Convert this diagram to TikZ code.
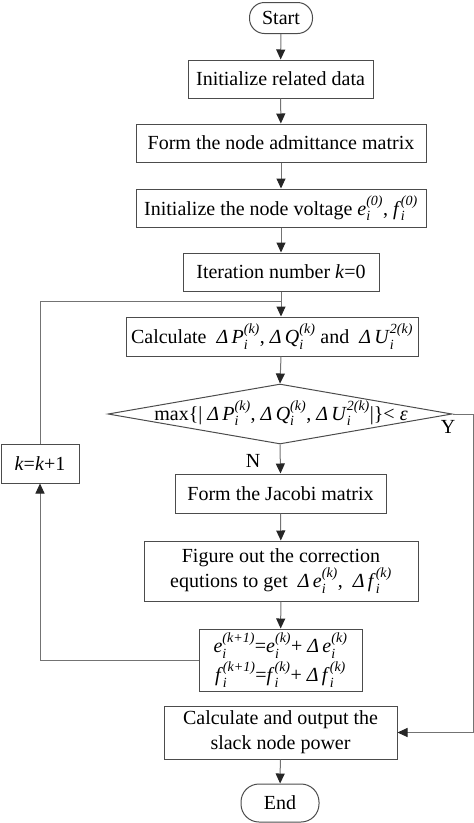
\documentclass[tikz,border=0pt]{standalone}
\usepackage{fontspec}
\usepackage{amsmath}
\setmainfont{Liberation Serif}
\usetikzlibrary{shapes.geometric,arrows.meta}
\newcommand{\sv}[3]{\textit{#1}$_{\textit{#2}}^{\textit{#3}}$}
\newcommand{\dl}{\textit{Δ}\,}
\tikzset{
  box/.style={draw=black!70, line width=1pt, rectangle, inner sep=0pt, align=center, font=\fontsize{20}{25}\selectfont},
  term/.style={box, rounded corners=15pt},
  flow/.style={draw=black!55, line width=1pt},
  arr/.style={flow, -{Triangle[width=9pt,length=10pt,color=black!85]}},
  lbl/.style={inner sep=0pt, font=\fontsize{20}{25}\selectfont}
}
\begin{document}
\begin{tikzpicture}[x=1pt,y=-1pt]
\useasboundingbox (0,0) rectangle (474,823);
\node[term, minimum width=63pt, minimum height=31pt] (start) at (281,18){Start};
\node[box, minimum width=185pt, minimum height=38pt] (init) at (280.5,79){Initialize related data};
\node[box, minimum width=290pt, minimum height=38pt] (adm) at (281,143){Form the node admittance matrix};
\node[box, minimum width=290pt, minimum height=38pt] (volt) at (281,208){Initialize the node voltage \sv{e}{i}{(0)}, \sv{f}{i}{(0)}};
\node[box, minimum width=196pt, minimum height=38pt] (iter) at (281,272){Iteration number \textit{k}=0};
\node[box, minimum width=292pt, minimum height=39pt] (calc) at (272,336.5){Calculate \ \dl\sv{P}{i}{(k)}, \dl\sv{Q}{i}{(k)} and \ \dl\sv{U}{i}{2(k)}};
\node[diamond, draw=black!70, line width=1pt, inner sep=0pt, minimum width=344pt, minimum height=60pt] (dec) at (280,414){};
\node[lbl] (dectxt) at (281,413){max\{| \dl\sv{P}{i}{(k)}, \dl\sv{Q}{i}{(k)}, \dl\sv{U}{i}{2(k)}|\}< \textit{ε}};
\node[box, minimum width=211pt, minimum height=39pt] (jac) at (280.5,493.5){Form the Jacobi matrix};
\node[box, minimum width=274pt, minimum height=60pt] (fig) at (281,571){Figure out the correction\\equtions to get \ \dl\sv{e}{i}{(k)}, \ \dl\sv{f}{i}{(k)}};
\node[box, minimum width=163pt, minimum height=62pt] (upd) at (280.5,660){\sv{e}{i}{(k+1)}=\sv{e}{i}{(k)}+ \dl\sv{e}{i}{(k)}\\[3pt]\sv{f}{i}{(k+1)}=\sv{f}{i}{(k)}+ \dl\sv{f}{i}{(k)}};
\node[box, minimum width=233pt, minimum height=53pt] (out) at (280.5,732.5){Calculate and output the\\slack node power};
\node[term, minimum width=78pt, minimum height=38pt, rounded corners=18pt] (end) at (280,803){End};
\node[box, minimum width=78pt, minimum height=39pt] (kk) at (40,463.5){\textit{k}=\textit{k}+1};
\node[lbl] (ylbl) at (448,427){Y};
\node[lbl] (nlbl) at (253,461){N};
\coordinate (join) at (281,301);
\coordinate (yturn) at (473,414);
\coordinate (ydown) at (473,732.5);
\draw[arr](start) -- (init);
\draw[arr](init) -- (adm);
\draw[arr](adm) -- (volt);
\draw[arr](volt) -- (iter);
\draw[arr](iter.south) -- (iter.south |- calc.north);
\draw[arr](iter.south |- calc.south) -- (dec.north);
\draw[arr](dec.south) -- (jac.north);
\draw[arr](jac) -- (fig);
\draw[arr](fig) -- (upd);
\draw[arr](upd.west) -| (kk.south);
\draw[flow](kk.north) |- (join);
\draw[flow](dec.east) -- (yturn) -- (ydown);
\draw[arr](ydown) -- (out.east);
\draw[arr](out) -- (end);
\end{tikzpicture}
\end{document}
